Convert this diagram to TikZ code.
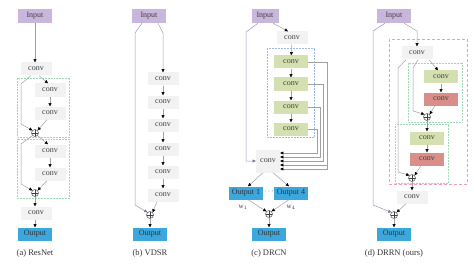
\documentclass[tikz,border=0pt]{standalone}
\usepackage{fontspec}
\setmainfont{Liberation Serif}
\usetikzlibrary{arrows.meta,calc}
\definecolor{inpurple}{HTML}{C9B6DC}
\definecolor{outblue}{HTML}{3BA7DD}
\definecolor{convgray}{HTML}{F2F2F2}
\definecolor{convgreen}{HTML}{D4E0B0}
\definecolor{convred}{HTML}{D98E89}
\definecolor{linegray}{HTML}{A0A0A0}
\definecolor{skippurple}{HTML}{A48ECA}
\definecolor{boxgreen}{HTML}{9ED8B6}
\definecolor{boxblue}{HTML}{9FB9E2}
\definecolor{boxred}{HTML}{EE9FAE}
\definecolor{txt}{HTML}{404040}
\begin{document}
\begin{tikzpicture}[x=1pt,y=-1pt,
  font=\fontsize{8}{9.6}\selectfont,
  base/.style={inner sep=0pt, text=txt},
  inbox/.style={base, fill=inpurple, minimum width=34pt, minimum height=14pt},
  convbox/.style={base, fill=convgray, minimum width=31pt, minimum height=13pt},
  gconv/.style={convbox, fill=convgreen, minimum width=34pt},
  rconv/.style={convbox, fill=convred, minimum width=34pt},
  outbox/.style={base, fill=outblue, minimum width=34pt, minimum height=13pt, text=black!80},
  caption/.style={base, font=\fontsize{8.5}{10}\selectfont, text=black!80},
  wlabel/.style={base, font=\fontsize{7}{8}\selectfont},
  oplus/.style={circle, draw=black!75, line width=0.45pt, minimum size=7pt, inner sep=0pt,
    path picture={\draw[black!75, line width=0.45pt]
      (path picture bounding box.north) -- (path picture bounding box.south)
      (path picture bounding box.west) -- (path picture bounding box.east);}},
  ln/.style={draw=linegray, line width=0.5pt},
  arr/.style={ln, -{Triangle[length=3.2pt,width=3pt,color=black]}},
  parr/.style={draw=skippurple, line width=0.5pt, -{Triangle[length=3.2pt,width=3pt,color=skippurple!80!black]}},
  gbox/.style={draw=boxgreen, densely dotted, line width=0.5pt},
  bbox/.style={draw=boxblue, densely dotted, line width=0.5pt},
  rbox/.style={draw=boxred, densely dashed, line width=0.5pt},
]
\useasboundingbox (0,0) rectangle (474,270);

% ---------------- (a) ResNet ----------------
\draw[gbox] (17,78) rectangle (69,137);
\draw[gbox] (17,139) rectangle (69,198);
\node[inbox] (aIn) at (35,16) {Input};
\node[convbox] (a1) at (36,69) {conv};
\node[convbox] (a2) at (50,90) {conv};
\node[convbox] (a3) at (50,113) {conv};
\node[oplus] (ap1) at (35,133) {};
\node[convbox] (a4) at (50,151) {conv};
\node[convbox] (a5) at (50,174) {conv};
\node[oplus] (ap2) at (35,193) {};
\node[convbox] (a6) at (36,213) {conv};
\node[outbox] (aOut) at (35,234) {Output};
\node[caption] (aCap) at (35,253) {(a) ResNet};

\draw[arr] (aIn.south) -- (aIn.south |- a1.north);
\draw[arr] ([xshift=3pt]a1.south) -- ([xshift=-2pt]a2.north);
\draw[arr] (a2) -- (a3);
\draw[arr] ([xshift=-3pt]a3.south) -- (ap1.north east);
\draw[arr] ([xshift=-5pt]a1.south) -- (21,84) -- (21,124) -- (ap1.north west);
\draw[arr] (ap1.south east) -- ([xshift=-2pt]a4.north);
\draw[arr] (a4) -- (a5);
\draw[arr] ([xshift=-3pt]a5.south) -- (ap2.north east);
\draw[arr] (ap1.south west) -- (21,144) -- (21,184) -- (ap2.north west);
\draw[arr] (ap2.south) -- (ap2.south |- a6.north);
\draw[arr] (a6.south -| aOut.north) -- (aOut.north);

% ---------------- (b) VDSR ----------------
\node[inbox] (bIn) at (149,16) {Input};
\node[convbox] (b1) at (163,79) {conv};
\node[convbox] (b2) at (163,102) {conv};
\node[convbox] (b3) at (163,125) {conv};
\node[convbox] (b4) at (163,149) {conv};
\node[convbox] (b5) at (163,172) {conv};
\node[convbox] (b6) at (163,195) {conv};
\node[oplus] (bp) at (150,215) {};
\node[outbox] (bOut) at (150,234) {Output};
\node[caption] (bCap) at (150,253) {(b) VDSR};

\draw[arr] ([xshift=9pt]bIn.south) -- (163,33) -- (b1.north);
\draw[arr] (b1) -- (b2);
\draw[arr] (b2) -- (b3);
\draw[arr] (b3) -- (b4);
\draw[arr] (b4) -- (b5);
\draw[arr] (b5) -- (b6);
\draw[arr] ([xshift=-6pt]b6.south) -- (bp.north east);
\draw[parr] ([xshift=-7pt]bIn.south) -- (135,33) -- (135,205) -- (bp.north west);
\draw[arr] (bp.south) -- (bOut.north);

% ---------------- (c) DRCN ----------------
\draw[bbox] (267,48) rectangle (314,137);
\node[inbox, minimum width=27pt] (cIn) at (265,16) {Input};
\node[convbox] (c0) at (292,38) {conv};
\node[gconv] (cg1) at (291,62) {conv};
\node[gconv] (cg2) at (291,84) {conv};
\node[gconv] (cg3) at (291,107) {conv};
\node[gconv] (cg4) at (291,129) {conv};
\node[convbox, minimum width=24pt, minimum height=23pt] (cm) at (268,161) {conv};
\node[outbox] (co1) at (246,193) {Output 1};
\node[outbox] (co4) at (291,193) {Output 4};
\node[base] (cdots) at (269,192) {$\cdots$};
\node[oplus] (cp) at (269,214) {};
\node[outbox] (cOut) at (269,234) {Output};
\node[caption] (cCap) at (269,253) {(c) DRCN};
\node[wlabel] (cw1) at (243,207) {w$_1$};
\node[wlabel] (cw4) at (291,207) {w$_4$};

\draw[arr] ([xshift=8pt]cIn.south) -- ([xshift=-4pt]c0.north);
\draw[arr] (c0) -- (cg1);
\draw[arr] (cg1) -- (cg2);
\draw[arr] (cg2) -- (cg3);
\draw[arr] (cg3) -- (cg4);
\draw[parr] ([xshift=-7pt]cIn.south) -- (246,32) -- (246,161) -- (cm.west);
\draw[arr] (cg4.east) -| (317,153) -- ([yshift=8pt]cm.east);
\draw[arr] (cg3.east) -| (320,157) -- ([yshift=4pt]cm.east);
\draw[arr] (cg2.east) -| (323,161) -- (cm.east);
\draw[arr] (cg1.east) -| (327,169) -- ([yshift=-8pt]cm.east);
\draw[arr] (327,165) -- ([yshift=-4pt]cm.east);
\draw[arr] ([xshift=-5pt]cm.south) -- ([xshift=2pt]co1.north);
\draw[arr] ([xshift=5pt]cm.south) -- ([xshift=-2pt]co4.north);
\draw[arr] ([xshift=2pt]co1.south) -- (cp.north west);
\draw[arr] ([xshift=-2pt]co4.south) -- (cp.north east);
\draw[arr] (cp.south) -- (cOut.north);

% ---------------- (d) DRRN ----------------
\draw[rbox] (389,39) rectangle (467,184);
\draw[gbox] (408,63) rectangle (462,122);
\draw[gbox] (395,124) rectangle (448,183);
\node[inbox] (dIn) at (394,16) {Input};
\node[convbox] (d0) at (417,53) {conv};
\node[gconv] (dg1) at (441,77) {conv};
\node[rconv] (dr1) at (441,99) {conv};
\node[oplus] (dp1) at (427,117) {};
\node[gconv] (dg2) at (427,138) {conv};
\node[rconv] (dr2) at (427,159) {conv};
\node[oplus] (dp2) at (412,178) {};
\node[convbox] (dc) at (412,197) {conv};
\node[oplus] (dp3) at (394,215) {};
\node[outbox] (dOut) at (394,234) {Output};
\node[caption] (dCap) at (394,253) {(d) DRRN (ours)};

\draw[parr] ([xshift=-9pt]dIn.south) -- (373,31) -- (373,205) -- (dp3.north west);
\draw[arr] ([xshift=10pt]dIn.south) -- (417,31) -- (d0.north);
\draw[arr] ([xshift=-11pt]d0.south) -- (398,68) -- (398,172) -- (dp2.north west);
\draw[arr] ([xshift=1pt]d0.south) -- (413,68) -- (413,111) -- (dp1.north west);
\draw[arr] ([xshift=12pt]d0.south) -- ([xshift=-3pt]dg1.north);
\draw[arr] (dg1) -- (dr1);
\draw[arr] ([xshift=-6pt]dr1.south) -- (dp1.north east);
\draw[arr] (dp1.south) -- (dg2.north);
\draw[arr] (dg2) -- (dr2);
\draw[arr] ([xshift=-6pt]dr2.south) -- (dp2.north east);
\draw[arr] (dp2.south) -- (dc.north);
\draw[arr] ([xshift=-6pt]dc.south) -- (dp3.north east);
\draw[arr] (dp3.south) -- (dOut.north);
\end{tikzpicture}
\end{document}
